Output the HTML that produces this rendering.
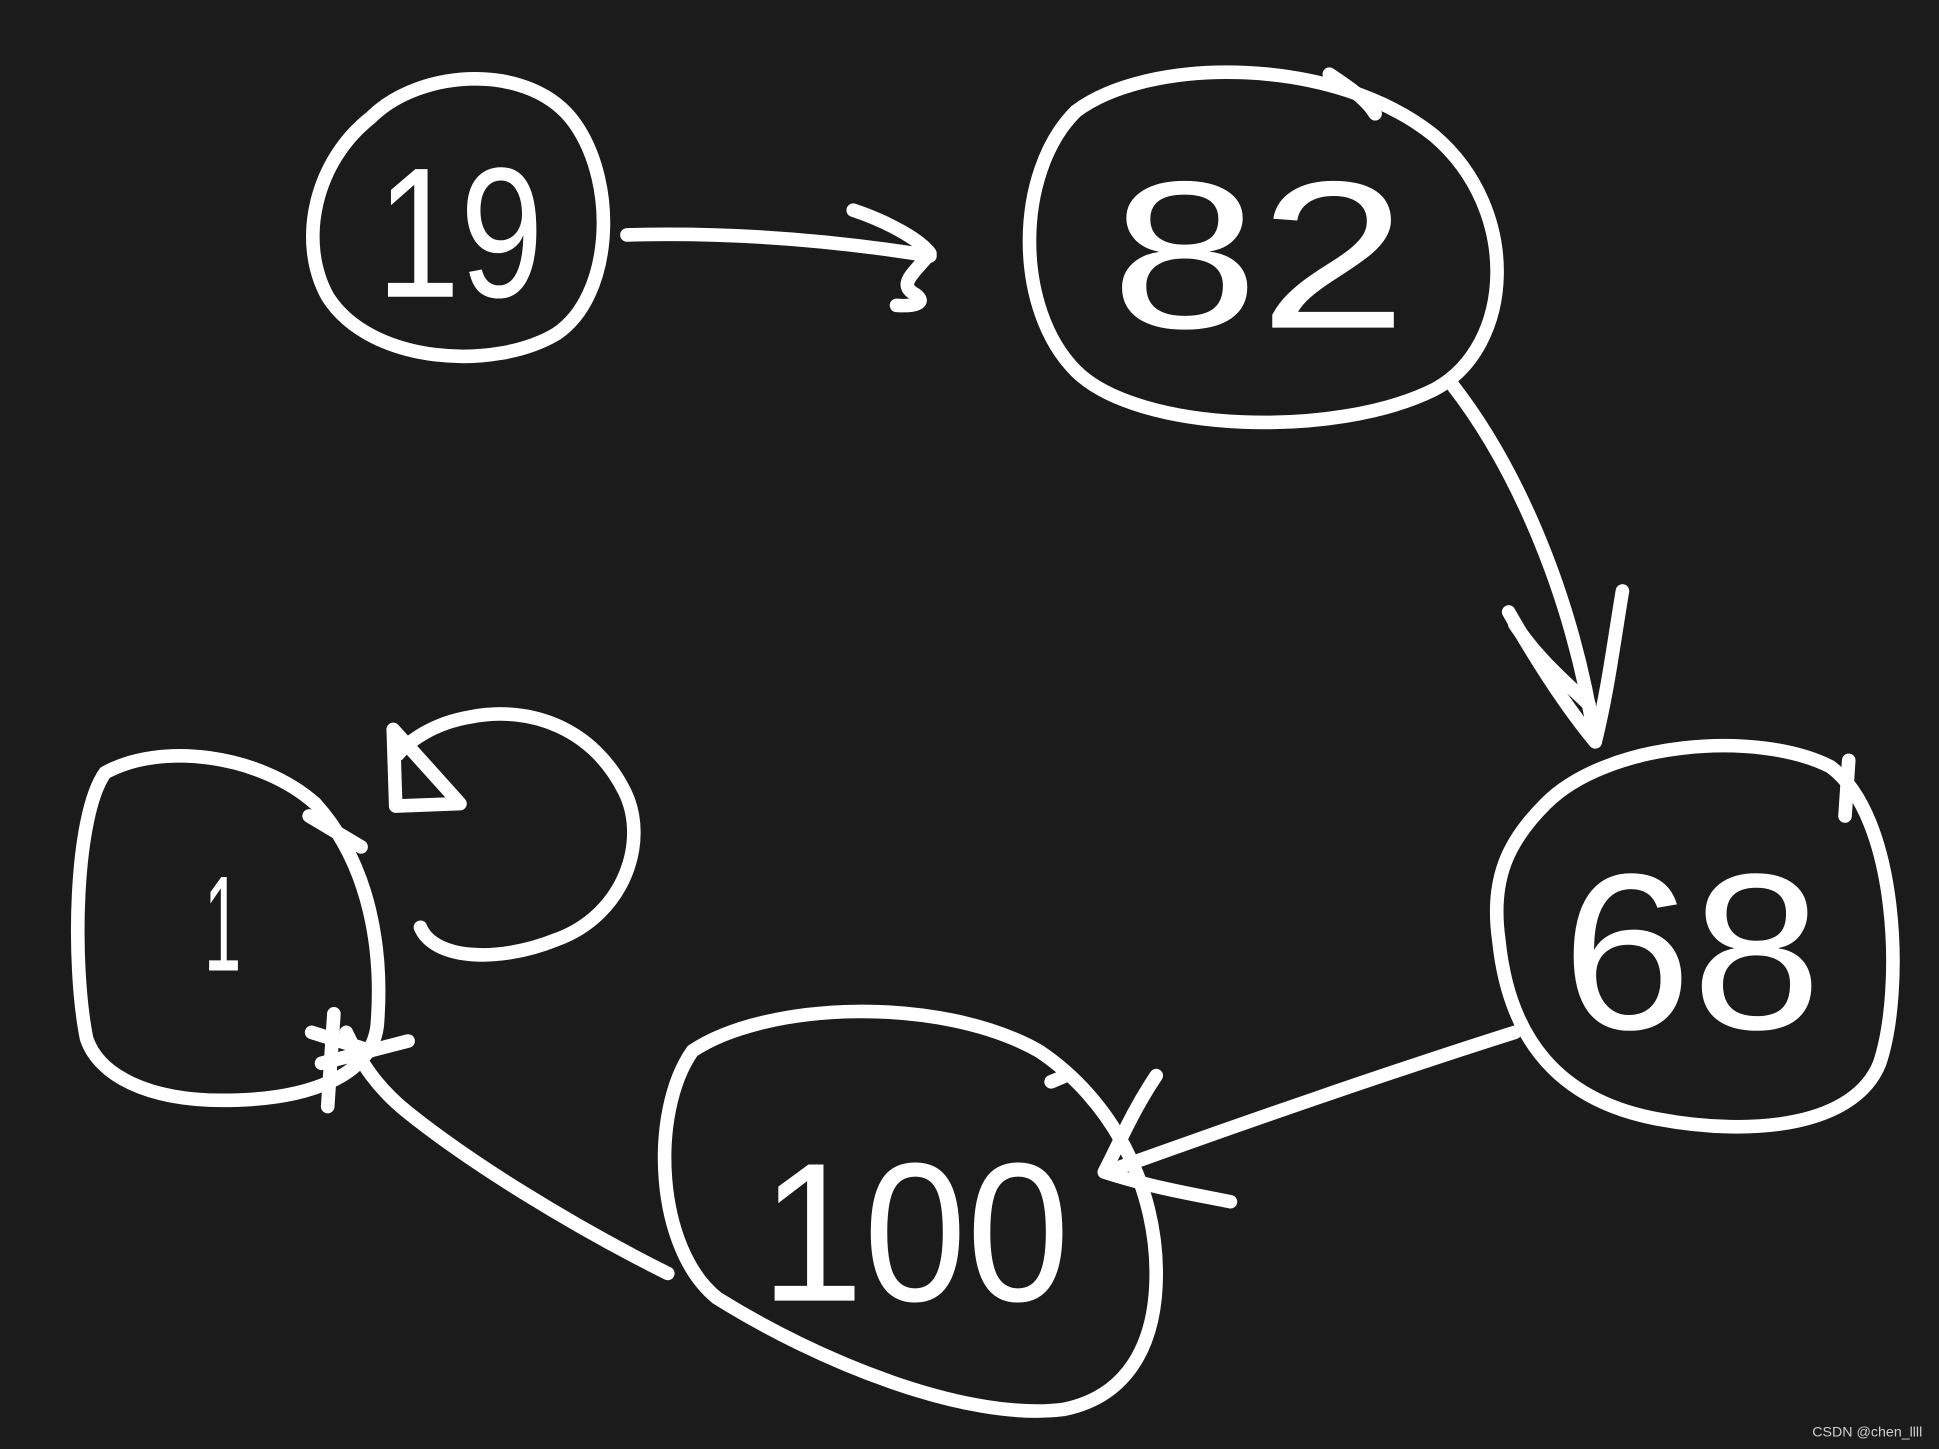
<!DOCTYPE html>
<html><head><meta charset="utf-8"><style>
html,body{margin:0;padding:0;background:#1b1b1b;}
svg{display:block;}
</style></head><body>
<svg width="1939" height="1449" viewBox="0 0 1568 1172" preserveAspectRatio="none" xmlns="http://www.w3.org/2000/svg">
<rect width="1568" height="1172" fill="#1b1b1b"/>
<g fill="none" stroke="#fff" stroke-width="11" stroke-linecap="round" stroke-linejoin="round">
<!-- 19 -->
<path d="M300,95 C340,55 430,50 465,100 C500,150 495,240 450,270 C400,300 300,295 265,240 C240,195 255,130 300,95 Z"/>
<!-- 82 -->
<path d="M870,90 C930,45 1080,45 1160,110 C1230,170 1225,280 1160,315 C1080,355 920,350 870,300 C820,250 820,140 870,90 Z"/>
<path d="M1075,60 C1090,70 1105,80 1112,92"/>
<!-- 68 -->
<path d="M1250,650 C1300,600 1420,590 1480,620 C1535,660 1540,800 1520,860 C1500,910 1420,920 1340,905 C1260,890 1220,840 1212,760 C1205,710 1220,680 1250,650 Z"/>
<path d="M1495,615 L1492,660"/>
<!-- 100 -->
<path d="M560,850 C620,810 760,805 840,850 C900,890 935,960 935,1030 C935,1090 910,1130 860,1140 C780,1150 660,1100 580,1050 C530,1010 525,900 560,850 Z"/>
<path d="M850,875 L862,870"/>
<!-- 1 -->
<path d="M85,625 C130,600 210,610 255,650 C300,700 310,770 305,830 C300,870 250,890 180,890 C120,890 80,870 70,840 C58,780 60,660 85,625 Z"/>
<path d="M250,660 L292,685"/>
<!-- arrow 19 -> 82 -->
<path d="M507,190 C580,188 660,192 752,207"/>
<path d="M690,170 C720,180 745,195 752,205 C740,220 725,230 740,238 C750,245 740,248 725,247"/>
<!-- arrow 82 -> 68 -->
<path d="M1175,312 C1220,370 1270,470 1290,600"/>
<path d="M1220,495 C1240,530 1265,570 1290,600 C1300,560 1305,520 1312,478"/>
<path d="M1225,505 C1245,535 1270,555 1285,570"/>
<!-- arrow 68 -> 100 -->
<path d="M1225,835 C1130,865 1000,910 895,948"/>
<path d="M935,870 C915,900 905,925 893,948 C930,960 960,965 995,972"/>
<!-- arrow 100 -> 1 -->
<path d="M540,1030 C460,990 380,940 330,900 C305,880 292,860 280,835"/>
<path d="M252,835 L300,850 M270,820 L265,895 M260,860 L330,842"/>
<!-- self loop on 1 -->
<path d="M340,750 C350,775 400,780 450,760 C505,740 525,680 505,640 C480,590 430,570 380,580 C350,585 330,600 322,610"/>
<path d="M318,590 L320,652 L372,650 Z"/>
</g>
<g fill="#fff" font-family="'Liberation Sans', sans-serif" text-anchor="middle">
<text x="372" y="240" font-size="150" textLength="135" lengthAdjust="spacingAndGlyphs">19</text>
<text x="1018" y="265" font-size="170" textLength="240" lengthAdjust="spacingAndGlyphs">82</text>
<text x="1368" y="832" font-size="180" textLength="210" lengthAdjust="spacingAndGlyphs">68</text>
<text x="740" y="1052" font-size="160" textLength="250" lengthAdjust="spacingAndGlyphs">100</text>
<text x="180" y="785" font-size="110" textLength="30" lengthAdjust="spacingAndGlyphs">1</text>
</g>
<text x="1510" y="1162" font-family="'Liberation Sans', sans-serif" font-size="11.5" fill="#cfcfcf" text-anchor="middle">CSDN @chen_llll</text>
</svg>
</body></html>
